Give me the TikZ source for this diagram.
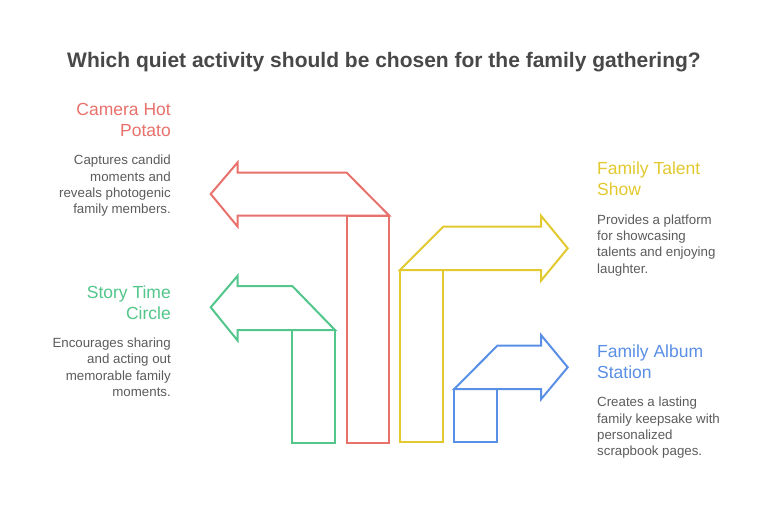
\documentclass[tikz,border=0pt]{standalone}
\usepackage{fontspec}
\setmainfont{Liberation Sans}
\definecolor{cred}{HTML}{E8716C}
\definecolor{cgreen}{HTML}{52C68B}
\definecolor{cyellow}{HTML}{E2C92F}
\definecolor{cblue}{HTML}{5A8FE6}
\definecolor{ctitle}{HTML}{484848}
\definecolor{cdesc}{HTML}{5C5C5C}
\tikzset{
  shapeline/.style={line width=2pt, line join=miter},
  heading/.style={font=\fontsize{17.5}{21}\selectfont, inner sep=0pt},
  desc/.style={font=\fontsize{13.3}{16.4}\selectfont, inner sep=0pt, text=cdesc},
}
\begin{document}
\begin{tikzpicture}[x=1pt,y=-1pt]
\useasboundingbox[fill=white] (0,0) rectangle (768,507);

\node[inner sep=0pt, anchor=base, text=ctitle, font=\fontsize{21}{25}\selectfont\bfseries] (title) at (384,67) {Which quiet activity should be chosen for the family gathering?};

% red arrow
\draw[shapeline, cred] (210.7,194) -- (237.7,162.3) -- (237.7,172.7) -- (346.7,172.7) -- (389.3,215.7) -- (237.7,215.7) -- (237.7,226.7) -- cycle;
\draw[shapeline, cred] (346.7,215.7) rectangle (389.3,442.7);
% green arrow
\draw[shapeline, cgreen] (210.7,307.3) -- (237.7,275.7) -- (237.7,286) -- (292.3,286) -- (335,330) -- (237.7,330) -- (237.7,340.7) -- cycle;
\draw[shapeline, cgreen] (292.3,330) rectangle (335,442.7);
% yellow arrow
\draw[shapeline, cyellow] (567.7,248.3) -- (541,215.7) -- (541,226.7) -- (443.3,226.7) -- (400,270) -- (541,270) -- (541,280.7) -- cycle;
\draw[shapeline, cyellow] (400,270) rectangle (443.3,442.3);
% blue arrow
\draw[shapeline, cblue] (567.7,367.3) -- (541,335) -- (541,345.7) -- (497.3,345.7) -- (454.3,389) -- (541,389) -- (541,399.3) -- cycle;
\draw[shapeline, cblue] (454.3,389) rectangle (497.3,442.3);

% left texts (base anchor = baseline of last line)
\node[heading, text=cred, align=right, anchor=base east] (h1) at (171,136) {Camera Hot\\Potato};
\node[desc, align=right, anchor=base east] (d1) at (171,213.8) {Captures candid\\moments and\\reveals photogenic\\family members.};
\node[heading, text=cgreen, align=right, anchor=base east] (h2) at (171,319.3) {Story Time\\Circle};
\node[desc, align=right, anchor=base east] (d2) at (171,396.5) {Encourages sharing\\and acting out\\memorable family\\moments.};
% right texts
\node[heading, text=cyellow, align=left, anchor=base west] (h3) at (597,195) {Family Talent\\Show};
\node[desc, align=left, anchor=base west] (d3) at (597,273.2) {Provides a platform\\for showcasing\\talents and enjoying\\laughter.};
\node[heading, text=cblue, align=left, anchor=base west] (h4) at (597,378.3) {Family Album\\Station};
\node[desc, align=left, anchor=base west] (d4) at (597,455.9) {Creates a lasting\\family keepsake with\\personalized\\scrapbook pages.};
\end{tikzpicture}
\end{document}
